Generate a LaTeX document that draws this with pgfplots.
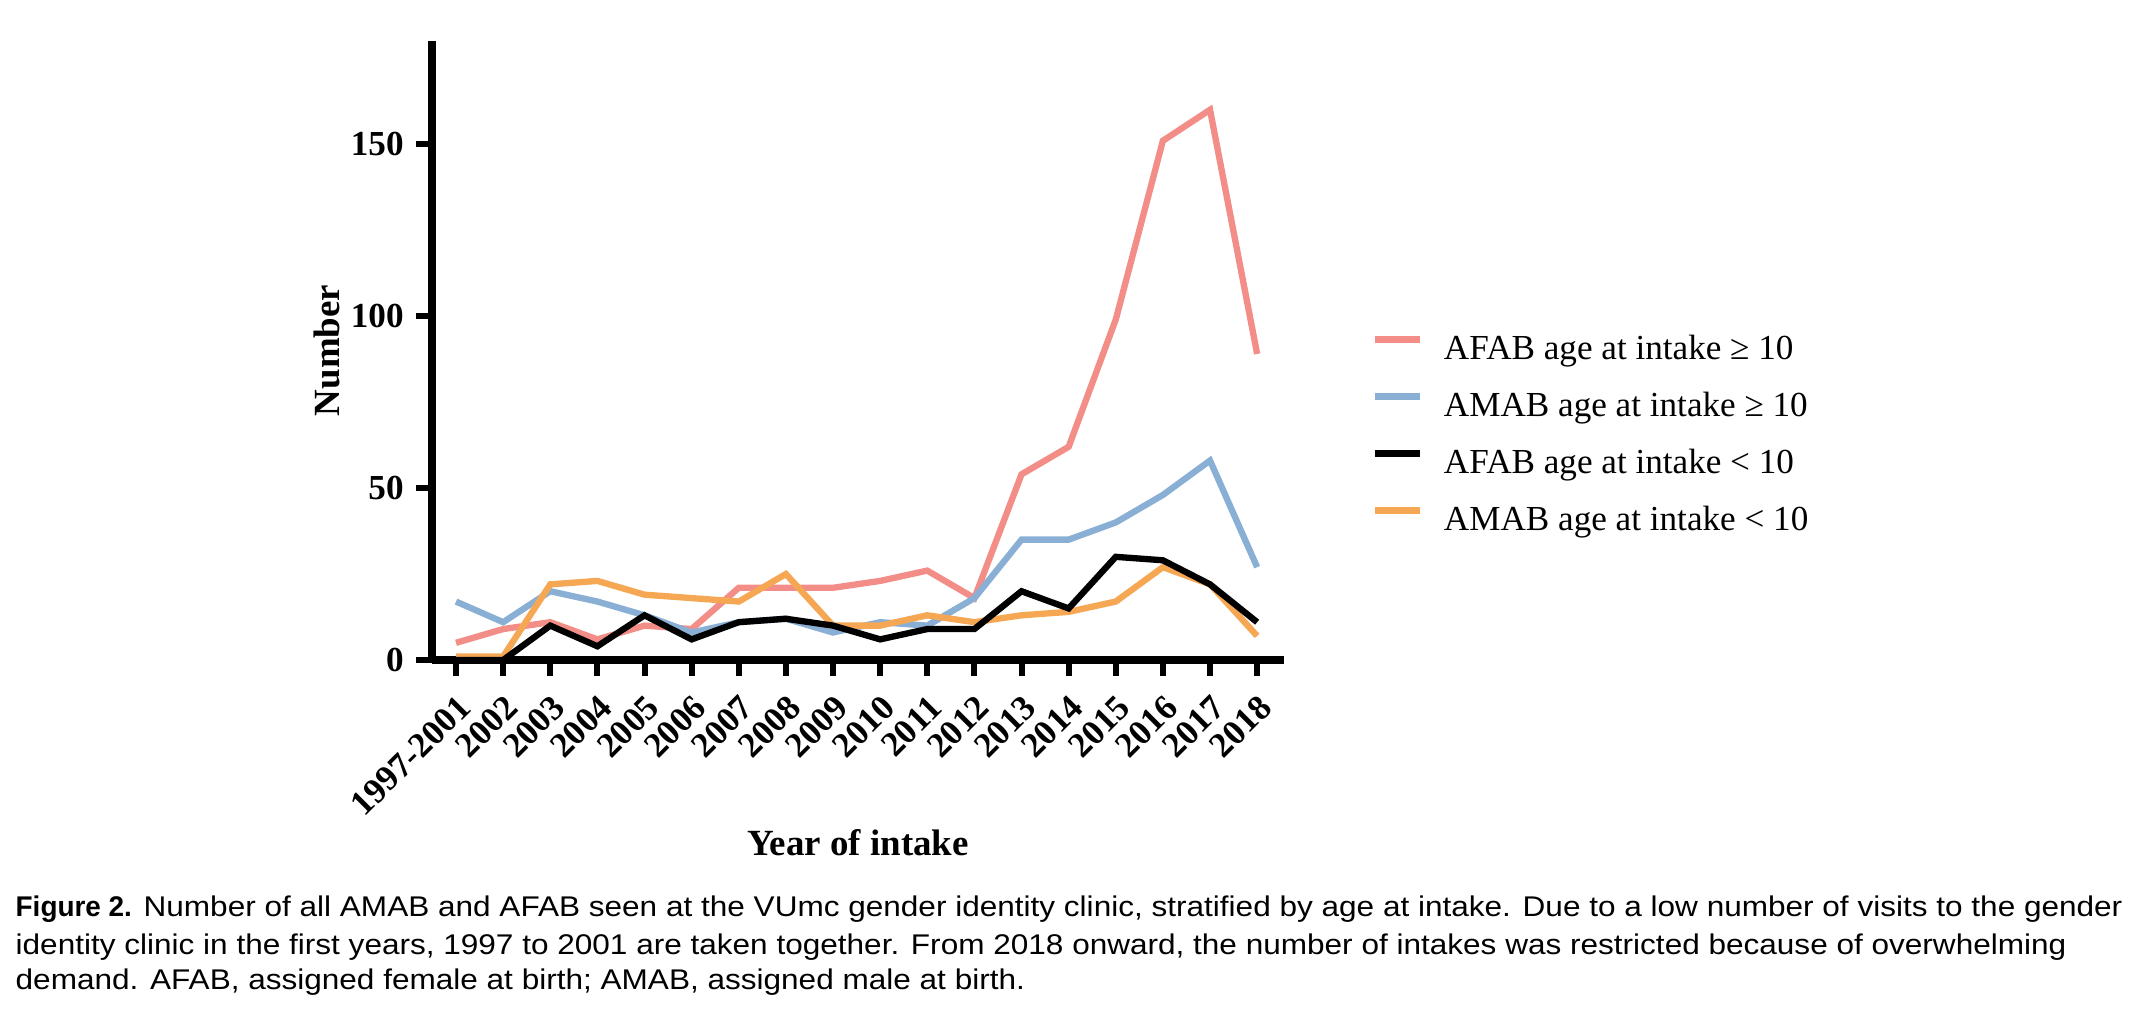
\documentclass[border=0pt]{standalone}
\usepackage{fontspec}
\setmainfont{Liberation Serif}
\newfontfamily\capfont[FakeStretch=1.108, BoldFeatures={FakeStretch=0.98}]{Liberation Sans}
\usepackage{pgfplots}
\pgfplotsset{compat=1.18}

\definecolor{afabold}{RGB}{243,141,135}
\definecolor{amabold}{RGB}{138,175,213}
\definecolor{amabyoung}{RGB}{246,167,84}

% intakes per year, category 0 = 1997-2001
\pgfplotstableread{
x afabold amabold afabyoung amabyoung
0   5  17  0  1
1   9  11  0  1
2  11  20 10 22
3   6  17  4 23
4  10  13 13 19
5   9   8  6 18
6  21  11 11 17
7  21  12 12 25
8  21   8 10 10
9  23  11  6 10
10 26  10  9 13
11 18  18  9 11
12 54  35 20 13
13 62  35 15 14
14 99  40 30 17
15 151 48 29 27
16 160 58 22 22
17 89  27 11  7
}\intakes

\begin{document}
\begin{tikzpicture}
\useasboundingbox (0,0) rectangle (21.30,10.12);
\begin{axis}[
  at={(4.32cm,3.52cm)}, anchor=south west,
  scale only axis, width=8.52cm, height=6.19cm,
  xmin=-0.51, xmax=17.57, ymin=0, ymax=180,
  axis x line*=bottom, axis y line*=left,
  axis line style={line width=2.2pt},
  tick align=outside, major tick length=0.16cm,
  tick style={line width=1.7pt, black},
  xtick={0,...,17},
  xticklabels={1997-2001,2002,2003,2004,2005,2006,2007,2008,2009,2010,2011,2012,2013,2014,2015,2016,2017,2018},
  ytick={0,50,100,150},
  /pgf/number format/assume math mode=true,
  ticklabel style={font=\fontsize{10}{12}\selectfont\bfseries},
  x tick label style={rotate=45, anchor=north east},
  xlabel={Year of intake}, ylabel={Number},
  label style={font=\fontsize{10.5}{12}\selectfont\bfseries},
  xlabel style={at={(axis description cs:0.5,-0.2956)}, anchor=center},
  ylabel style={at={(axis description cs:-0.1232,0.5)}, anchor=center},
  legend style={at={(axis description cs:1.102,0.362)}, anchor=west,
    draw=none, fill=none, inner sep=0pt, column sep=0.21cm, row sep=0.27cm,
    font=\fontsize{10}{12}\selectfont,
    nodes={inner sep=0pt, text height=0.24cm, text depth=0.06cm}},
  legend cell align=left,
  legend image code/.code={\draw[#1] (0cm,0.11cm) -- (0.45cm,0.11cm);},
]
\addlegendimage{afabold, line width=1.8pt}
\addlegendentry{AFAB age at intake ≥ 10}
\addlegendimage{amabold, line width=1.8pt}
\addlegendentry{AMAB age at intake ≥ 10}
\addlegendimage{black, line width=1.8pt}
\addlegendentry{AFAB age at intake < 10}
\addlegendimage{amabyoung, line width=1.8pt}
\addlegendentry{AMAB age at intake < 10}

\addplot[afabold, line width=1.8pt, forget plot] table[y=afabold] {\intakes};
\addplot[amabold, line width=1.8pt, forget plot] table[y=amabold] {\intakes};
\addplot[amabyoung, line width=1.8pt, forget plot] table[y=amabyoung] {\intakes};
\addplot[black, line width=1.8pt, forget plot] table[y=afabyoung] {\intakes};
\end{axis}

\begin{scope}[every node/.style={anchor=base west, inner sep=0pt, font=\capfont\fontsize{8.1}{10.8}\selectfont}]
\node at (0.15,{(1012-916)/100}) {\textbf{Figure 2.} Number of all AMAB and AFAB seen at the VUmc gender identity clinic, stratified by age at intake. Due to a low number of visits to the gender};
\node at (0.15,{(1012-954)/100}) {identity clinic in the first years, 1997 to 2001 are taken together. From 2018 onward, the number of intakes was restricted because of overwhelming};
\node at (0.15,{(1012-989)/100}) {demand. AFAB, assigned female at birth; AMAB, assigned male at birth.};
\end{scope}
\end{tikzpicture}
\end{document}
